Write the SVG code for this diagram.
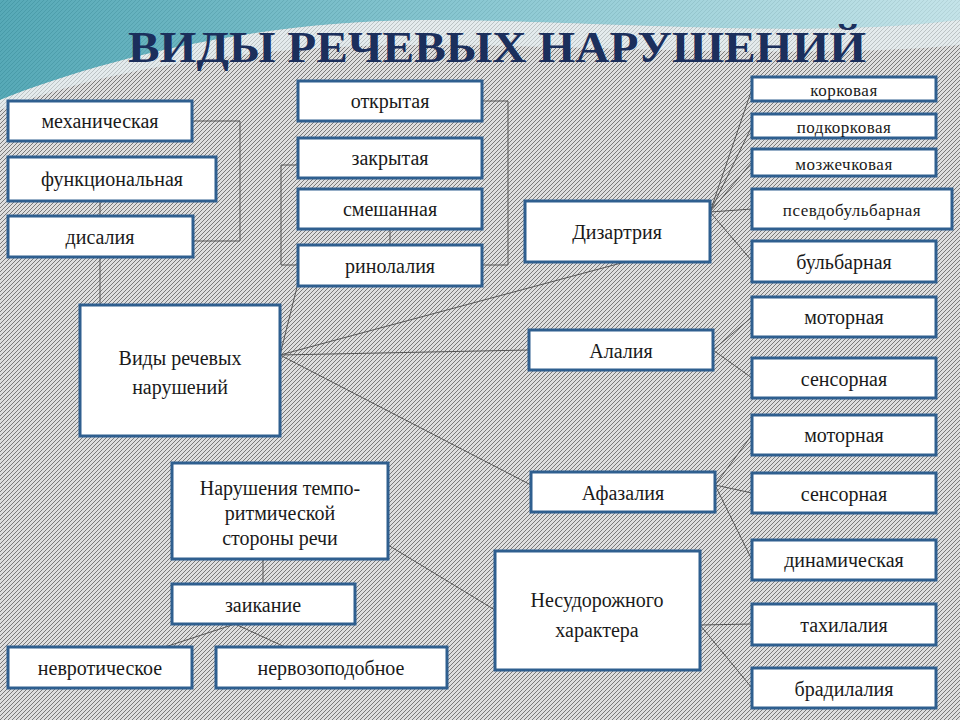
<svg xmlns="http://www.w3.org/2000/svg" width="960" height="720" viewBox="0 0 960 720">
<defs>
<pattern id="hatch" width="4" height="4" patternUnits="userSpaceOnUse">
<rect width="4" height="4" fill="#dedede"/>
<path d="M0,4 L4,0 M-1,1 L1,-1 M3,5 L5,3" stroke="#7a7a7a" stroke-width="1"/>
</pattern>
<linearGradient id="wave" x1="0" y1="0" x2="1" y2="0">
<stop offset="0" stop-color="#3fa0b0"/>
<stop offset="0.5" stop-color="#7cc4d0"/>
<stop offset="1" stop-color="#bfe4ea"/>
</linearGradient>
<style>
.b{fill:#fff;stroke:#2f5f8f;stroke-width:3}
.t{font-family:"Liberation Serif",serif;font-size:20px;fill:#1a1a1a;text-anchor:middle}
.s{font-size:17px;letter-spacing:0.5px}
.c{fill:none;stroke:#555;stroke-width:1}
</style>
</defs>
<rect width="960" height="720" fill="url(#hatch)"/>
<path d="M0,0 H960 V20 C800,40 600,20 420,20 C250,22 100,60 0,100 Z" fill="url(#wave)" opacity="0.85"/>
<path d="M0,100 C100,60 250,22 420,20 C600,20 800,40 960,20 V45 C800,60 600,45 420,45 C250,45 100,70 0,110 Z" fill="#e8f4f6" opacity="0.6"/>
<text x="497" y="62" font-family="Liberation Serif,serif" font-weight="bold" font-size="44" fill="#1b2f5c" text-anchor="middle" textLength="738" lengthAdjust="spacingAndGlyphs">ВИДЫ РЕЧЕВЫХ НАРУШЕНИЙ</text>
<g id="connectors" class="c">
<path class="c" d="M192,121 H240 V241 H193"/>
<path class="c" d="M100,201 V216 M100,257 V305"/>
<path class="c" d="M482,101 H508 V265 H482"/>
<path class="c" d="M298,165 H281 V265 H298"/>
<path class="c" d="M390,229 V245"/>
<path class="c" d="M280,355 L298,283 M280,355 L625,262 M280,355 L529,350 M280,355 L531,485"/>
<path class="c" d="M710,212 L752,89 M710,212 L752,126 M710,212 L752,162 M710,212 L752,209 M710,212 L752,261"/>
<path class="c" d="M713,350 L752,317 M713,350 L752,378"/>
<path class="c" d="M715,485 L752,435 M715,485 L752,493 M715,485 L752,560"/>
<path class="c" d="M700,625 L752,624 M700,625 L752,688"/>
<path class="c" d="M388,545 L495,610 M263,559 V584 M235,624 L165,647 M235,624 L285,647"/>
</g>
<g id="n1"><rect class="b" x="8" y="101" width="184" height="40"/><text class="t" x="100" y="128">механическая</text></g>
<g id="n2"><rect class="b" x="8" y="157" width="208" height="44"/><text class="t" x="112" y="186">функциональная</text></g>
<g id="n3"><rect class="b" x="8" y="216" width="185" height="41"/><text class="t" x="100" y="244">дисалия</text></g>
<g id="n4"><rect class="b" x="298" y="81" width="184" height="40"/><text class="t" x="390" y="108">открытая</text></g>
<g id="n5"><rect class="b" x="298" y="138" width="184" height="40"/><text class="t" x="390" y="165">закрытая</text></g>
<g id="n6"><rect class="b" x="298" y="189" width="184" height="40"/><text class="t" x="390" y="216">смешанная</text></g>
<g id="n7"><rect class="b" x="298" y="245" width="184" height="41"/><text class="t" x="390" y="273">ринолалия</text></g>
<g id="main"><rect class="b" x="80" y="305" width="200" height="131"/><text class="t" x="180" y="365">Виды речевых</text><text class="t" x="180" y="394">нарушений</text></g>
<g id="dz"><rect class="b" x="525" y="201" width="185" height="61"/><text class="t" x="617" y="239">Дизартрия</text></g>
<g id="d1"><rect class="b" x="752" y="77" width="184" height="24"/><text class="t s" x="844" y="96">корковая</text></g>
<g id="d2"><rect class="b" x="752" y="114" width="184" height="24"/><text class="t s" x="844" y="133">подкорковая</text></g>
<g id="d3"><rect class="b" x="752" y="149" width="184" height="27"/><text class="t s" x="844" y="170">мозжечковая</text></g>
<g id="d4"><rect class="b" x="752" y="189" width="200" height="40"/><text class="t s" x="852" y="216">псевдобульбарная</text></g>
<g id="d5"><rect class="b" x="752" y="241" width="184" height="41"/><text class="t" x="844" y="269">бульбарная</text></g>
<g id="al"><rect class="b" x="529" y="330" width="184" height="40"/><text class="t" x="621" y="358">Алалия</text></g>
<g id="a1"><rect class="b" x="752" y="297" width="184" height="40"/><text class="t" x="844" y="324">моторная</text></g>
<g id="a2"><rect class="b" x="752" y="358" width="184" height="40"/><text class="t" x="844" y="386">сенсорная</text></g>
<g id="af"><rect class="b" x="531" y="472" width="184" height="40"/><text class="t" x="623" y="500">Афазалия</text></g>
<g id="f1"><rect class="b" x="752" y="415" width="184" height="40"/><text class="t" x="844" y="442">моторная</text></g>
<g id="f2"><rect class="b" x="752" y="473" width="184" height="40"/><text class="t" x="844" y="501">сенсорная</text></g>
<g id="f3"><rect class="b" x="752" y="540" width="184" height="40"/><text class="t" x="844" y="567">динамическая</text></g>
<g id="ns"><rect class="b" x="495" y="551" width="205" height="119"/><text class="t" x="597" y="607">Несудорожного</text><text class="t" x="597" y="637">характера</text></g>
<g id="n8"><rect class="b" x="752" y="604" width="184" height="41"/><text class="t" x="844" y="632">тахилалия</text></g>
<g id="n9"><rect class="b" x="752" y="668" width="184" height="40"/><text class="t" x="844" y="696">брадилалия</text></g>
<g id="tr"><rect class="b" x="172" y="463" width="216" height="96"/><text class="t" x="280" y="495" font-size="17">Нарушения темпо-</text><text class="t" x="280" y="520" font-size="17">ритмической</text><text class="t" x="280" y="545" font-size="17">стороны речи</text></g>
<g id="za"><rect class="b" x="172" y="584" width="183" height="40"/><text class="t" x="263" y="612">заикание</text></g>
<g id="z1"><rect class="b" x="8" y="647" width="184" height="41"/><text class="t" x="100" y="675">невротическое</text></g>
<g id="z2"><rect class="b" x="216" y="647" width="231" height="41"/><text class="t" x="331" y="675">нервозоподобное</text></g>
</svg>
